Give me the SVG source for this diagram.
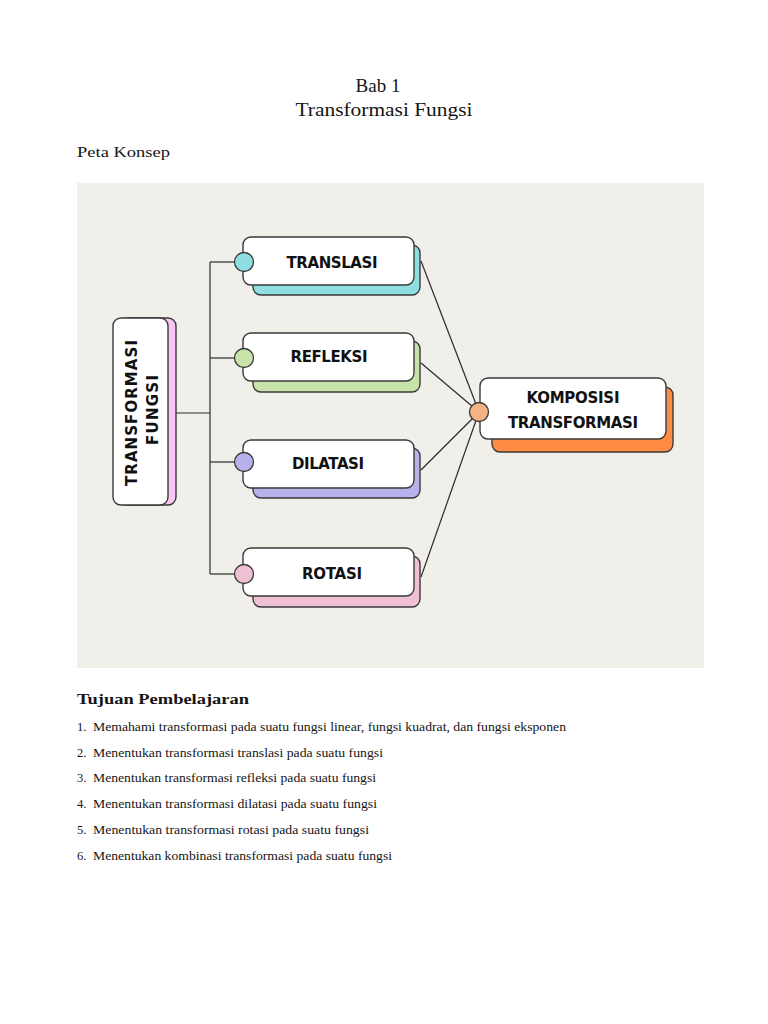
<svg xmlns="http://www.w3.org/2000/svg" width="768" height="1024" viewBox="0 0 768 1024">
<style>
.serif{font-family:"Liberation Serif","Times New Roman",serif;fill:#151515}
.lbl{font-family:"DejaVu Sans","Liberation Sans",sans-serif;font-weight:bold;font-size:15px;fill:#111;text-anchor:middle}
.card{fill:#ffffff;stroke:#3a3a3a;stroke-width:1.4}
.sh{stroke:#3a3a3a;stroke-width:1.4}
.conn{fill:none;stroke:#2b2b2b;stroke-width:1.2}
.dot{stroke:#3a3a3a;stroke-width:1.3}
</style>
<rect width="768" height="1024" fill="#ffffff"/>
<text class="serif" x="378" y="92" font-size="19" text-anchor="middle">Bab 1</text>
<text class="serif" x="384" y="116" font-size="19" text-anchor="middle" textLength="177" lengthAdjust="spacingAndGlyphs">Transformasi Fungsi</text>
<text class="serif" x="77" y="157" font-size="15.5" textLength="93" lengthAdjust="spacingAndGlyphs">Peta Konsep</text>
<rect x="77" y="183" width="627" height="485" fill="#f1efe9"/>
<g id="connectors">
<polyline class="conn" points="176,413 210,413"/>
<line class="conn" x1="210" y1="262" x2="210" y2="574"/>
<line class="conn" x1="210" y1="262" x2="240" y2="262"/>
<line class="conn" x1="210" y1="358" x2="240" y2="358"/>
<line class="conn" x1="210" y1="462" x2="240" y2="462"/>
<line class="conn" x1="210" y1="574" x2="240" y2="574"/>
<line class="conn" x1="421" y1="261" x2="479" y2="412"/>
<line class="conn" x1="421" y1="363" x2="479" y2="412"/>
<line class="conn" x1="421" y1="470" x2="479" y2="412"/>
<line class="conn" x1="421" y1="577" x2="479" y2="412"/>
</g>
<g id="node-transformasi-fungsi">
<rect class="sh" x="120" y="318" width="56" height="187" rx="8" fill="#f9c6f3"/>
<rect class="card" x="113" y="318" width="55" height="187" rx="8"/>
<text class="lbl" transform="translate(137,413) rotate(-90)" textLength="146" lengthAdjust="spacing">TRANSFORMASI</text>
<text class="lbl" transform="translate(158,410) rotate(-90)" textLength="70" lengthAdjust="spacing">FUNGSI</text>
</g>
<g id="node-translasi">
<rect class="sh" x="253" y="245" width="167" height="50" rx="8" fill="#8fdfe2"/>
<rect class="card" x="243" y="237" width="171" height="48" rx="8"/>
<circle class="dot" cx="244" cy="262" r="9.5" fill="#8fdfe2"/>
<text class="lbl" x="332" y="268" textLength="91" lengthAdjust="spacing">TRANSLASI</text>
</g>
<g id="node-refleksi">
<rect class="sh" x="253" y="341" width="167" height="51" rx="8" fill="#c8e3aa"/>
<rect class="card" x="243" y="333" width="171" height="48" rx="8"/>
<circle class="dot" cx="244" cy="358" r="9.5" fill="#c8e3aa"/>
<text class="lbl" x="329" y="362" textLength="77" lengthAdjust="spacing">REFLEKSI</text>
</g>
<g id="node-dilatasi">
<rect class="sh" x="253" y="448" width="167" height="50" rx="8" fill="#b7b1ec"/>
<rect class="card" x="243" y="440" width="171" height="48" rx="8"/>
<circle class="dot" cx="244" cy="462" r="9.5" fill="#b7b1ec"/>
<text class="lbl" x="328" y="469" textLength="72" lengthAdjust="spacing">DILATASI</text>
</g>
<g id="node-rotasi">
<rect class="sh" x="253" y="556" width="167" height="51" rx="8" fill="#efbfd4"/>
<rect class="card" x="243" y="548" width="171" height="48" rx="8"/>
<circle class="dot" cx="244" cy="574" r="9.5" fill="#efbfd4"/>
<text class="lbl" x="332" y="579" textLength="60" lengthAdjust="spacing">ROTASI</text>
</g>
<g id="node-komposisi">
<rect class="sh" x="492" y="387" width="181" height="65" rx="8" fill="#ff8c42"/>
<rect class="card" x="480" y="378" width="186" height="61" rx="8"/>
<circle class="dot" cx="479" cy="412" r="9.5" fill="#f4b285"/>
<text class="lbl" x="573" y="403" textLength="93" lengthAdjust="spacing">KOMPOSISI</text>
<text class="lbl" x="573" y="428" textLength="130" lengthAdjust="spacing">TRANSFORMASI</text>
</g>
<text class="serif" x="77" y="704" font-size="15.5" font-weight="bold" textLength="172" lengthAdjust="spacingAndGlyphs">Tujuan Pembelajaran</text>
<g class="serif">
<text x="77" y="731" font-size="12.5">1.</text><text x="93" y="731" font-size="12.5" textLength="473" lengthAdjust="spacingAndGlyphs">Memahami transformasi pada suatu fungsi linear, fungsi kuadrat, dan fungsi eksponen</text>
<text x="77" y="757" font-size="12.5">2.</text><text x="93" y="757" font-size="12.5" textLength="290" lengthAdjust="spacingAndGlyphs">Menentukan transformasi translasi pada suatu fungsi</text>
<text x="77" y="782" font-size="12.5">3.</text><text x="93" y="782" font-size="12.5" textLength="283" lengthAdjust="spacingAndGlyphs">Menentukan transformasi refleksi pada suatu fungsi</text>
<text x="77" y="808" font-size="12.5">4.</text><text x="93" y="808" font-size="12.5" textLength="284" lengthAdjust="spacingAndGlyphs">Menentukan transformasi dilatasi pada suatu fungsi</text>
<text x="77" y="834" font-size="12.5">5.</text><text x="93" y="834" font-size="12.5" textLength="276" lengthAdjust="spacingAndGlyphs">Menentukan transformasi rotasi pada suatu fungsi</text>
<text x="77" y="860" font-size="12.5">6.</text><text x="93" y="860" font-size="12.5" textLength="299" lengthAdjust="spacingAndGlyphs">Menentukan kombinasi transformasi pada suatu fungsi</text>
</g>
</svg>
